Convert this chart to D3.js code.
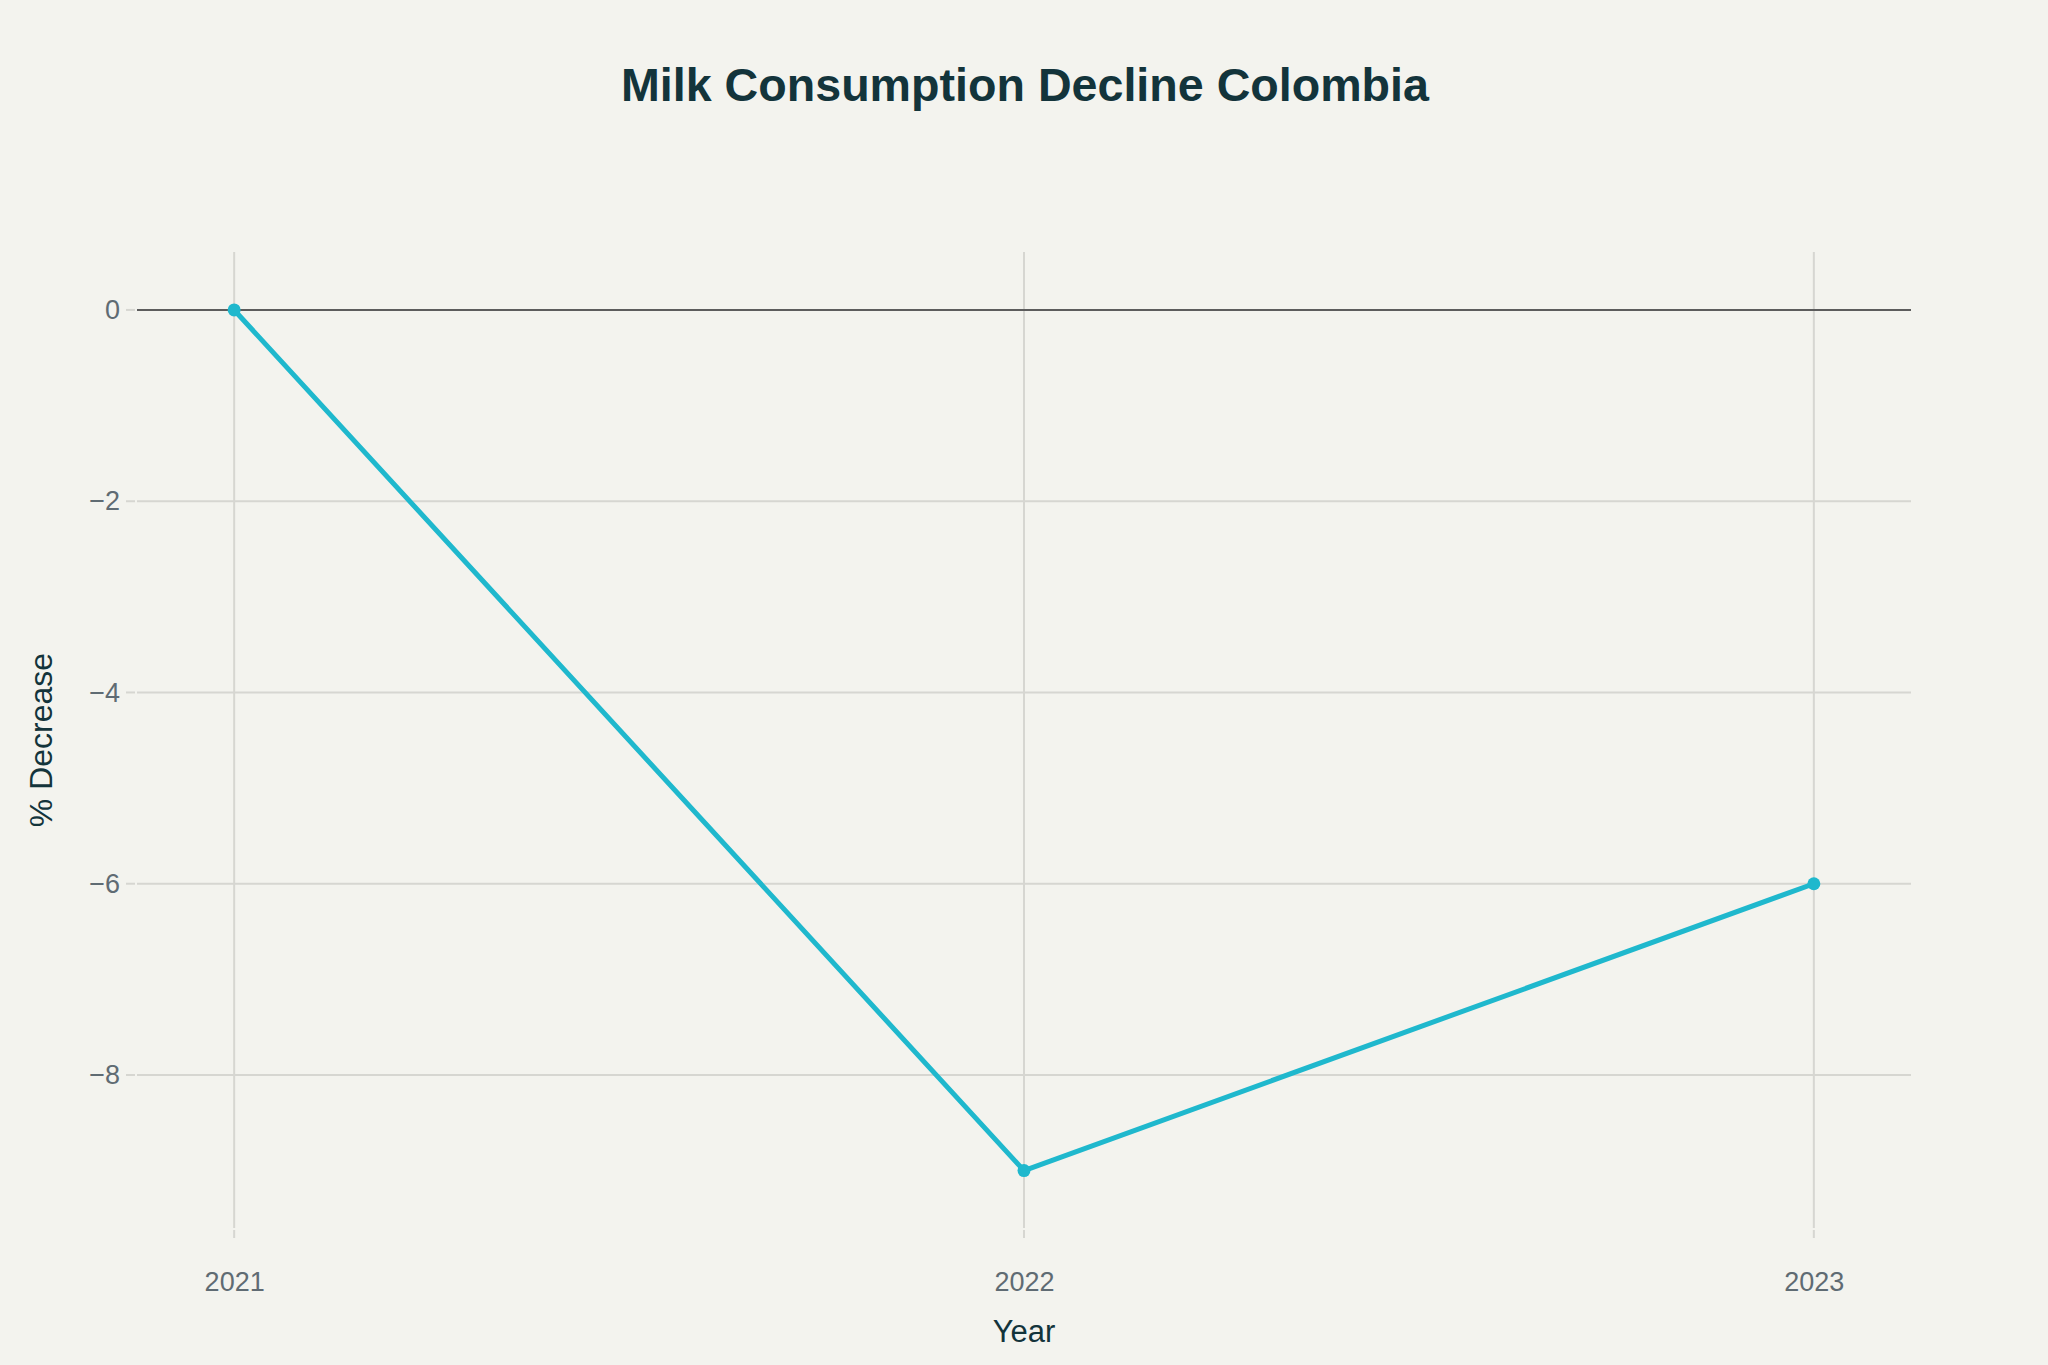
<!DOCTYPE html>
<html>
<head>
<meta charset="utf-8">
<script src="https://cdn.jsdelivr.net/npm/d3@7"></script>
<style>
  body { margin: 0; background: #f3f3ee; }
  svg { display: block; }
</style>
</head>
<body>
<div class="chart"></div>
<script>
var svgWidth = 2048;
var svgHeight = 1365;

// data
var years = [2021, 2022, 2023];
var decline = [0, -9, -6];
var yTicks = [0, -2, -4, -6, -8];

var margin = { top: 252, right: 137, bottom: 137, left: 137 };
var width = svgWidth - margin.left - margin.right;
var height = svgHeight - margin.top - margin.bottom;

var font = "'Liberation Sans', Arial, sans-serif";

var svg = d3.select(".chart")
  .append("svg")
  .attr("width", svgWidth)
  .attr("height", svgHeight);

svg.append("rect")
  .attr("width", svgWidth)
  .attr("height", svgHeight)
  .attr("fill", "#f3f3ee");

var chartGroup = svg.append("g")
  .attr("transform", `translate(${margin.left}, ${margin.top})`);

var xScale = d3.scaleLinear()
  .domain([2020.877, 2023.123])
  .range([0, width]);

var yScale = d3.scaleLinear()
  .domain([-9.6, 0.606])
  .range([height, 0]);

// x tick labels
var xAxis = chartGroup.append("g")
  .attr("transform", `translate(0, ${height})`)
  .call(d3.axisBottom(xScale).tickValues(years).tickFormat(d3.format("d")).tickSize(0).tickPadding(44));
xAxis.select(".domain").remove();
xAxis.selectAll("text")
  .attr("font-family", font)
  .attr("font-size", 27)
  .attr("fill", "#5f6b73");

// vertical grid
chartGroup.append("g")
  .selectAll("line")
  .data(years)
  .enter()
  .append("line")
  .attr("x1", d => xScale(d))
  .attr("x2", d => xScale(d))
  .attr("y1", 0)
  .attr("y2", height)
  .attr("stroke", "#d6d6d1")
  .attr("stroke-width", 2);

// outside x ticks
chartGroup.append("g")
  .selectAll("line")
  .data(years)
  .enter()
  .append("line")
  .attr("x1", d => xScale(d))
  .attr("x2", d => xScale(d))
  .attr("y1", height + 2)
  .attr("y2", height + 10)
  .attr("stroke", "#d6d6d1")
  .attr("stroke-width", 2);

// y tick labels
var yAxis = chartGroup.append("g")
  .call(d3.axisLeft(yScale).tickValues(yTicks).tickFormat(d => d === 0 ? "0" : "\u2212" + Math.abs(d)).tickSize(0).tickPadding(17));
yAxis.select(".domain").remove();
yAxis.selectAll("text")
  .attr("font-family", font)
  .attr("font-size", 27)
  .attr("fill", "#5f6b73");

// horizontal grid
chartGroup.append("g")
  .selectAll("line")
  .data(yTicks.filter(d => d !== 0))
  .enter()
  .append("line")
  .attr("x1", 0)
  .attr("x2", width)
  .attr("y1", d => yScale(d))
  .attr("y2", d => yScale(d))
  .attr("stroke", "#d6d6d1")
  .attr("stroke-width", 2);

// outside y ticks
chartGroup.append("g")
  .selectAll("line")
  .data(yTicks)
  .enter()
  .append("line")
  .attr("x1", -11)
  .attr("x2", -2)
  .attr("y1", d => yScale(d))
  .attr("y2", d => yScale(d))
  .attr("stroke", "#d6d6d1")
  .attr("stroke-width", 2);

// zero line
chartGroup.append("line")
  .attr("x1", 0)
  .attr("x2", width)
  .attr("y1", yScale(0))
  .attr("y2", yScale(0))
  .attr("stroke", "#5c5c5c")
  .attr("stroke-width", 2);

// series
var points = years.map((y, i) => ({ year: y, value: decline[i] }));

var line = d3.line()
  .x(d => xScale(d.year))
  .y(d => yScale(d.value));

chartGroup.append("path")
  .datum(points)
  .attr("d", line)
  .attr("fill", "none")
  .attr("stroke", "#1fb8cd")
  .attr("stroke-width", 5)
  .attr("stroke-linejoin", "round");

chartGroup.selectAll(".dot")
  .data(points)
  .enter()
  .append("circle")
  .attr("class", "dot")
  .attr("cx", d => xScale(d.year))
  .attr("cy", d => yScale(d.value))
  .attr("r", 6.5)
  .attr("fill", "#1fb8cd");

// titles
var title = svg.append("text")
  .attr("x", 1025)
  .attr("y", 101)
  .attr("text-anchor", "middle")
  .attr("font-family", font)
  .attr("font-weight", "bold")
  .attr("font-size", 50)
  .attr("fill", "#13343b")
  .text("Milk Consumption Decline Colombia");

// shrink the title so its width matches the reference
var tw = title.node().getComputedTextLength();
title.attr("font-size", 50 * 808 / tw);

svg.append("text")
  .attr("x", margin.left + xScale(2022))
  .attr("y", 1342)
  .attr("text-anchor", "middle")
  .attr("font-family", font)
  .attr("font-size", 31)
  .attr("fill", "#13343b")
  .text("Year");

svg.append("text")
  .attr("transform", `translate(52, ${margin.top + height / 2}) rotate(-90)`)
  .attr("text-anchor", "middle")
  .attr("font-family", font)
  .attr("font-size", 32)
  .attr("fill", "#13343b")
  .text("% Decrease");
</script>
</body>
</html>
